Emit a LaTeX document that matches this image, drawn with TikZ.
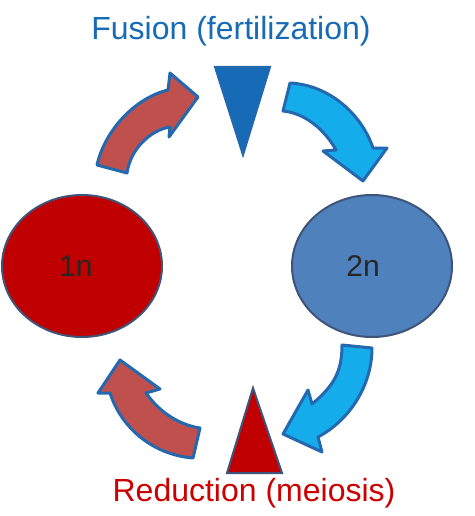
\documentclass[tikz,border=0pt]{standalone}
\usepackage{fontspec}
\setmainfont{Liberation Sans}
\usetikzlibrary{shapes.geometric}
\definecolor{darkred}{RGB}{192,0,0}
\definecolor{rosered}{RGB}{192,80,77}
\definecolor{skyblue}{RGB}{20,172,234}
\definecolor{steelblue}{RGB}{79,129,189}
\definecolor{deepblue}{RGB}{22,106,182}
\definecolor{rimblue}{RGB}{36,104,176}
\definecolor{rimgray}{RGB}{62,84,122}
\tikzset{
  cell/.style={ellipse,draw=rimgray,line width=2pt,minimum width=160pt,minimum height=142pt,inner sep=0pt},
  curvearrow/.style={draw=rimblue,line width=3pt,line join=round},
  wedge/.style={line width=2pt,line join=miter},
  caption/.style={font=\fontsize{32}{38}\selectfont,anchor=base},
  ploidy/.style={font=\fontsize{30}{36}\selectfont,text=black!85}
}

\begin{document}
\begin{tikzpicture}[x=1pt,y=-1pt]
\useasboundingbox (0,0) rectangle (474,516);
\node[cell,fill=darkred,label={[ploidy,xshift=-6pt]center:1n}] (haploid) at (82,266) {};
\node[cell,fill=steelblue,label={[ploidy,xshift=-9pt]center:2n}] (diploid) at (372,266) {};
\node[caption,text=deepblue] (fusion) at (231,40) {Fusion (fertilization)};
\node[caption,text=red!80!black] (reduction) at (254,501) {Reduction (meiosis)};
\coordinate (F1) at (215,67);
\coordinate (F2) at (270,67);
\coordinate (F3) at (243,155);
\filldraw[wedge,fill=deepblue,draw=rimblue] (F1) -- (F2) -- (F3) -- cycle;
\coordinate (R1) at (227,473);
\coordinate (R2) at (282,473);
\coordinate (R3) at (253,388);
\filldraw[wedge,fill=darkred,draw=rimgray] (R1) -- (R2) -- (R3) -- cycle;
\filldraw[curvearrow,fill=rosered] (97,165) .. controls (105,130) and (135,98) .. (168,90) -- (170,73) -- (198,97) -- (169,137) -- (170,127) .. controls (150,130) and (130,150) .. (127,173) -- cycle;
\filldraw[curvearrow,fill=skyblue] (290,83) .. controls (330,85) and (362,115) .. (373,148) -- (387,148) -- (363,181) -- (323,151) -- (336,150) .. controls (325,130) and (305,113) .. (283,111) -- cycle;
\filldraw[curvearrow,fill=skyblue] (342,345) -- (372,348) .. controls (372,385) and (350,420) .. (318,437) -- (322,452) -- (283,434) -- (308,390) -- (312,404) .. controls (335,385) and (342,370) .. (342,345) -- cycle;
\filldraw[curvearrow,fill=rosered] (200,428) -- (193,458) .. controls (155,455) and (122,430) .. (110,393) -- (98,393) -- (120,360) -- (160,389) -- (146,393) .. controls (160,413) and (180,425) .. (200,428) -- cycle;
\end{tikzpicture}
\end{document}
